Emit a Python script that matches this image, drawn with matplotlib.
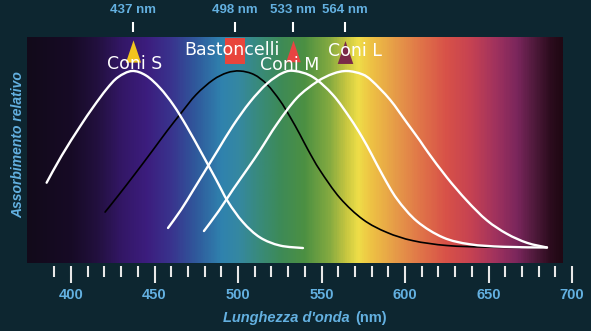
import numpy as np
import matplotlib
matplotlib.use("Agg")
import matplotlib.pyplot as plt
from matplotlib.colors import LinearSegmentedColormap
from matplotlib.path import Path
from matplotlib.patches import PathPatch
import matplotlib.transforms as mtransforms

# ---------------- data ----------------
peaks_nm = [437, 498, 533, 564]
peak_labels = ["437 nm", "498 nm", "533 nm", "564 nm"]
curve_names = ["Coni S", "Bastoncelli", "Coni M", "Coni L"]

coni_s_wl = [385.4, 394.4, 405.4, 413.4, 421.4, 428.1, 436.5, 444.9, 453.3, 461.3,
             469.3, 478.3, 486.8, 494.0, 503.0, 513.2, 525.1, 538.9]
coni_s_val = [0.376, 0.527, 0.690, 0.800, 0.900, 0.965, 1.000, 0.975, 0.905, 0.810,
              0.690, 0.540, 0.395, 0.270, 0.155, 0.070, 0.025, 0.011]

rod_wl = [420.4, 428.1, 438.3, 449.1, 457.5, 465.9, 474.9, 485.0, 493.4, 501.2,
          509.6, 517.4, 525.1, 531.1, 537.1, 541.9, 549.1, 561.1, 574.9, 589.2,
          604.8, 625.1, 649.1, 668.9]
rod_val = [0.212, 0.302, 0.425, 0.559, 0.665, 0.765, 0.868, 0.950, 0.990, 1.000,
           0.980, 0.925, 0.835, 0.745, 0.645, 0.560, 0.445, 0.290, 0.170, 0.098,
           0.052, 0.025, 0.016, 0.014]

coni_m_wl = [458.1, 465.9, 473.1, 480.2, 488.0, 497.0, 507.2, 517.4, 526.9, 534.1,
             544.9, 556.9, 567.1, 574.3, 580.2, 586.8, 595.2, 607.2, 622.8, 638.9,
             658.7, 685.0]
coni_m_val = [0.123, 0.225, 0.333, 0.441, 0.559, 0.695, 0.827, 0.930, 0.990, 1.000,
              0.966, 0.866, 0.737, 0.631, 0.531, 0.415, 0.285, 0.160, 0.070, 0.032,
              0.018, 0.014]

coni_l_wl = [479.6, 488.6, 497.0, 506.0, 513.2, 523.4, 535.3, 547.3, 556.9, 565.3,
             574.3, 580.2, 591.0, 601.2, 609.0, 613.8, 625.1, 637.1, 649.1, 661.1,
             673.1, 685.0]
coni_l_val = [0.106, 0.220, 0.338, 0.458, 0.557, 0.705, 0.850, 0.940, 0.985, 1.000,
              0.982, 0.945, 0.840, 0.710, 0.610, 0.545, 0.405, 0.275, 0.165, 0.090,
              0.040, 0.014]

major_ticks = [400, 450, 500, 550, 600, 650, 700]
minor_ticks = list(range(390, 701, 10))

# ---------------- styling ----------------
BG = "#0d2630"
LBLUE = "#63b0e0"
W, H = 591, 331

fig = plt.figure(figsize=(W / 100, H / 100), dpi=100)
fig.patch.set_facecolor(BG)

def fx(px):
    return px / W

def fy(py):
    return 1 - py / H

x0, x1 = 373.65, 694.6
ax = fig.add_axes([fx(27), fy(263), fx(563) - fx(27), fy(37) - fy(263)])
ax.set_xlim(x0, x1)
ax.set_ylim(-0.0726, 1.19)
ax.set_facecolor(BG)
for s in ax.spines.values():
    s.set_visible(False)
ax.set_xticks([])
ax.set_yticks([])

# spectrum background
stops = [
    (373, "#120a1a"), (400, "#170b26"), (415, "#22103e"), (430, "#331766"),
    (445, "#3c1d7e"), (460, "#39348e"), (475, "#2f5a9c"), (490, "#2f82ae"),
    (500, "#3588a2"), (510, "#388a82"), (525, "#3d8a58"), (540, "#4c9042"),
    (555, "#84aa40"), (565, "#c6c640"), (572, "#eede48"), (580, "#eec244"),
    (595, "#e69a48"), (610, "#e07448"), (625, "#d85248"), (640, "#c64252"),
    (655, "#a0325e"), (668, "#7a265c"), (678, "#501a3c"), (688, "#2c0c1e"),
]
cmap = LinearSegmentedColormap.from_list(
    "spec", [(0.0, "#120a1a")] +
    [((w - x0) / (x1 - x0), c) for w, c in stops if x0 < w < x1] +
    [(1.0, "#200814")])
grad = np.linspace(0, 1, 600).reshape(1, -1)
ax.imshow(grad, cmap=cmap, aspect="auto", extent=[x0, x1, -0.0726, 1.19],
          interpolation="bilinear", zorder=0)


def smooth_path(xs, ys):
    """Catmull-Rom curve through the read points, as cubic Bezier segments."""
    P = np.column_stack([xs, ys]).astype(float)
    n = len(P)
    verts = [P[0]]
    codes = [Path.MOVETO]
    for i in range(n - 1):
        p0 = P[i - 1] if i > 0 else P[i]
        p1 = P[i]
        p2 = P[i + 1]
        p3 = P[i + 2] if i + 2 < n else P[i + 1]
        c1 = p1 + (p2 - p0) / 6.0
        c2 = p2 - (p3 - p1) / 6.0
        verts += [c1, c2, p2]
        codes += [Path.CURVE4] * 3
    return Path(verts, codes)


for xs, ys, col, lw, z in [(rod_wl, rod_val, "black", 1.2, 2),
                           (coni_s_wl, coni_s_val, "white", 1.7, 3),
                           (coni_m_wl, coni_m_val, "white", 1.7, 3),
                           (coni_l_wl, coni_l_val, "white", 1.7, 3)]:
    ax.add_patch(PathPatch(smooth_path(xs, ys), facecolor="none",
                           edgecolor=col, lw=lw, zorder=z, capstyle="round"))

# markers at the top of the spectrum
trans = mtransforms.blended_transform_factory(ax.transData, ax.transAxes)
tri = [(-0.34, -0.5), (0.34, -0.5), (0.0, 0.5)]
sq = [(-0.37, -0.5), (0.37, -0.5), (0.37, 0.5), (-0.37, 0.5)]
marker_specs = [(tri, "#f2c41e", 0.938, 16), (sq, "#e8453c", 0.936, 18.5),
                (tri, "#e84442", 0.940, 15.5), (tri, "#7a2a48", 0.934, 16.5)]
for p, (m, c, yy, ms) in zip(peaks_nm, marker_specs):
    ax.plot([p], [yy], marker=m, color=c, ms=ms, mew=0, transform=trans,
            zorder=4, clip_on=False)

# curve labels
label_pos = [(438.3, 0.880), (496.4, 0.942), (531.1, 0.876), (570.1, 0.938)]
for name, (lx, ly) in zip(curve_names, label_pos):
    ax.text(lx, ly, name, transform=trans, color="white", fontsize=12.5,
            family="DejaVu Sans", ha="center", va="center", zorder=5)

# peak wavelength labels above
for p, lab in zip(peaks_nm, peak_labels):
    ax.plot([p, p], [1.022, 1.066], color="white", lw=1.5, transform=trans,
            clip_on=False, solid_capstyle="butt")
    ax.text(p, 1.118, lab, transform=trans, color=LBLUE, fontsize=9.5,
            family="Liberation Sans", weight="bold", ha="center", va="center")

# tick axis below the spectrum (wider so the 700 tick fits)
tx_right_px = 591
axt = fig.add_axes([fx(27), fy(266), fx(tx_right_px) - fx(27), 0.0001])
axt.set_xlim(x0, 400 + (tx_right_px - 71) / 1.67)
axt.set_facecolor("none")
for s in axt.spines.values():
    s.set_visible(False)
axt.set_yticks([])
axt.set_xticks(major_ticks)
axt.set_xticks(minor_ticks, minor=True)
axt.set_xticklabels([str(t) for t in major_ticks])
axt.tick_params(axis="x", which="major", length=12.2, width=1.5,
                color="#e8e8e8", direction="out", pad=3.5, labelsize=10.5,
                labelcolor=LBLUE)
axt.tick_params(axis="x", which="minor", length=7.9, width=1.5,
                color="#e8e8e8", direction="out")
for lab in axt.get_xticklabels():
    lab.set_family("Liberation Sans")
    lab.set_weight("bold")

# axis titles
fig.text(fx(350), fy(318), "Lunghezza d'onda", color=LBLUE, fontsize=10.5,
         family="Liberation Sans", weight="bold", style="italic",
         ha="right", va="center")
fig.text(fx(355), fy(318), "(nm)", color=LBLUE, fontsize=10.5,
         family="Liberation Sans", weight="bold", ha="left", va="center")
fig.text(fx(18), fy(145), "Assorbimento relativo", color=LBLUE, fontsize=10,
         family="Liberation Sans", weight="bold", style="italic",
         rotation=90, ha="center", va="center")

fig.savefig("out.png", dpi=100, facecolor=BG)
